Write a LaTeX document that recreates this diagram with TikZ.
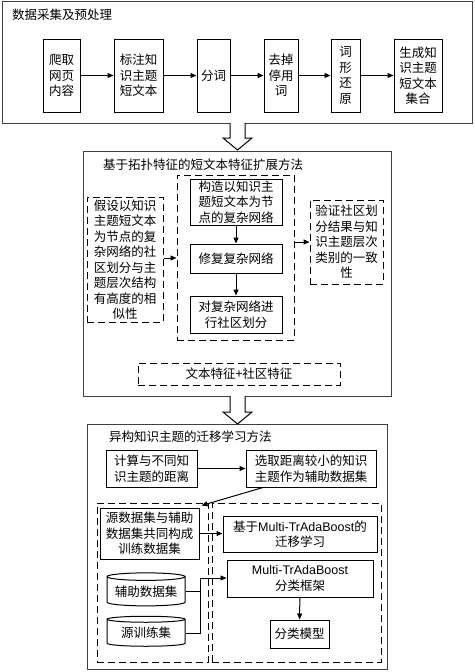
\documentclass[tikz,border=0pt]{standalone}
\usepackage{fontspec}
\setmainfont{Noto Sans CJK SC}
\newfontfamily\latfont{Liberation Sans}
\usepackage{tikz}
\usetikzlibrary{arrows.meta}
\usetikzlibrary{shapes.geometric}

\begin{document}
\begin{tikzpicture}[x=1pt,y=-1pt,
		every node/.style={font=\fontsize{12.5}{15.5}\selectfont,inner sep=0pt,align=center},
		frame/.style={draw=black!75,line width=1pt,minimum width=#1},
		box/.style={draw,line width=1pt},
		dbox/.style={draw,line width=1pt,dash pattern=on 7pt off 4pt},
		store/.style={draw,line width=1pt,cylinder,shape border rotate=90,aspect=0.12},
		blk/.style={draw,line width=1pt,fill=white}]
	\useasboundingbox (0,0) rectangle (474,672);
	
	% three frames
	\node[frame=470pt,minimum height=121.5pt] (F1) at (237,62.25) {};
	\node[frame=308pt,minimum height=245pt] (F2) at (237,273.5) {};
	\node[frame=300pt,minimum height=245pt] (F3) at (237,546.5) {};
	
	\draw[blk] (230,123) -- (230,138) -- (223,138) -- (237.5,150) -- (252,138) -- (245,138) -- (245,123);
	\draw[blk] (230,396) -- (230,412) -- (223,412) -- (237.5,424) -- (252,412) -- (245,412) -- (245,396);
	
	\node[anchor=west] (T1) at (12,15) {数据采集及预处理};
	\node[anchor=west] (T2) at (103,165) {基于拓扑特征的短文本特征扩展方法};
	\node[anchor=west] (T3) at (109,437) {异构知识主题的迁移学习方法};
	
	% preprocessing
	\begin{scope}[every node/.append style={box,minimum height=73pt}]
		\node[minimum width=37pt] (crawl) at (61.5,75.5) {爬取\\网页\\内容};
		\node[minimum width=49pt] (mark) at (138.5,75.5) {标注知\\识主题\\短文本};
		\node[minimum width=33pt] (seg) at (213.5,75.5) {分词};
		\node[minimum width=34pt] (stop) at (281,75.5) {去掉\\停用\\词};
		\node[minimum width=29pt] (lemma) at (345.5,75.5) {词\\形\\还\\原};
		\node[minimum width=48pt] (gen) at (418,75.5) {生成知\\识主题\\短文本\\集合};
	\end{scope}
	
	% topology features
	\node[dbox,minimum width=76pt,minimum height=125pt] (hyp) at (125,259.5) {假设以知识\\主题短文本\\为节点的复\\杂网络的社\\区划分与主\\题层次结构\\有高度的相\\似性};
	\node[dbox,minimum width=117pt,minimum height=165pt] (mid) at (235.5,257.5) {};
	\node[box,minimum width=92pt,minimum height=46pt] (build) at (236,202) {构造以知识主\\题短文本为节\\点的复杂网络};
	\node[box,minimum width=92pt,minimum height=29pt] (repair) at (236,258.5) {修复复杂网络};
	\node[box,minimum width=92pt,minimum height=37pt] (comm) at (236,314.5) {对复杂网络进\\行社区划分};
	\node[dbox,minimum width=73pt,minimum height=84pt] (check) at (346.5,242) {验证社区划\\分结果与知\\识主题层次\\类别的一致\\性};
	\node[dbox,minimum width=202pt,minimum height=22pt] (feat) at (239,374) {文本特征+社区特征};
	
	% transfer learning
	\node[box,minimum width=91pt,minimum height=37pt] (dist) at (151.5,468.5) {计算与不同知\\识主题的距离};
	\node[box,minimum width=130pt,minimum height=37pt] (sel) at (311,468.5) {选取距离较小的知识\\主题作为辅助数据集};
	\node[dbox,minimum width=111pt,minimum height=159pt] (L) at (152.5,582.5) {};
	\node[dbox,minimum width=169pt,minimum height=159pt] (R) at (296.5,582.5) {};
	\node[box,minimum width=99pt,minimum height=51pt] (train) at (149.5,533.5) {源数据集与辅助\\数据集共同构成\\训练数据集};
	\node[store,minimum width=78pt,minimum height=33pt] (aux) at (146,591.5) {辅助数据集};
	\node[store,minimum width=78pt,minimum height=30pt] (src) at (146,633) {源训练集};
	\node[box,minimum width=154pt,minimum height=36pt] (tl) at (300,534) {基于{\latfont Multi-TrAdaBoost}的\\迁移学习};
	\node[box,minimum width=146pt,minimum height=37pt] (fw) at (300,578.5) {{\latfont Multi-TrAdaBoost}\\分类框架};
	\node[box,minimum width=59pt,minimum height=28pt] (model) at (299.5,634) {分类模型};
	\coordinate (jn) at (200,578);
	
	\begin{scope}[>={Triangle[length=6pt,width=5pt]},line width=1pt]
		\path [->] (crawl) edge (mark);
		\path [->] (mark) edge (seg);
		\path [->] (seg) edge (stop);
		\path [->] (stop) edge (lemma);
		\path [->] (lemma) edge (gen);
		
		\path [->] (build) edge (repair);
		\path [->] (repair) edge (comm);
		\path [->] (hyp.east |- 0,258) edge (mid.west |- 0,258);
		\path [->] (mid.east |- check.west) edge (check.west);
		
		\path [->] (dist) edge (sel);
		\path [->] ([xshift=-48pt]sel.south) edge ([xshift=2pt,yshift=2pt]train.north east);
		\path [->] (train.east) edge (tl.west |- train.east);
		\draw (aux.east) -| (jn);
		\draw (src.east) -| (jn);
		\draw [->] (jn) -- (jn -| fw.west);
		\path [->] (fw) edge (model);
	\end{scope}
\end{tikzpicture}
\end{document}
